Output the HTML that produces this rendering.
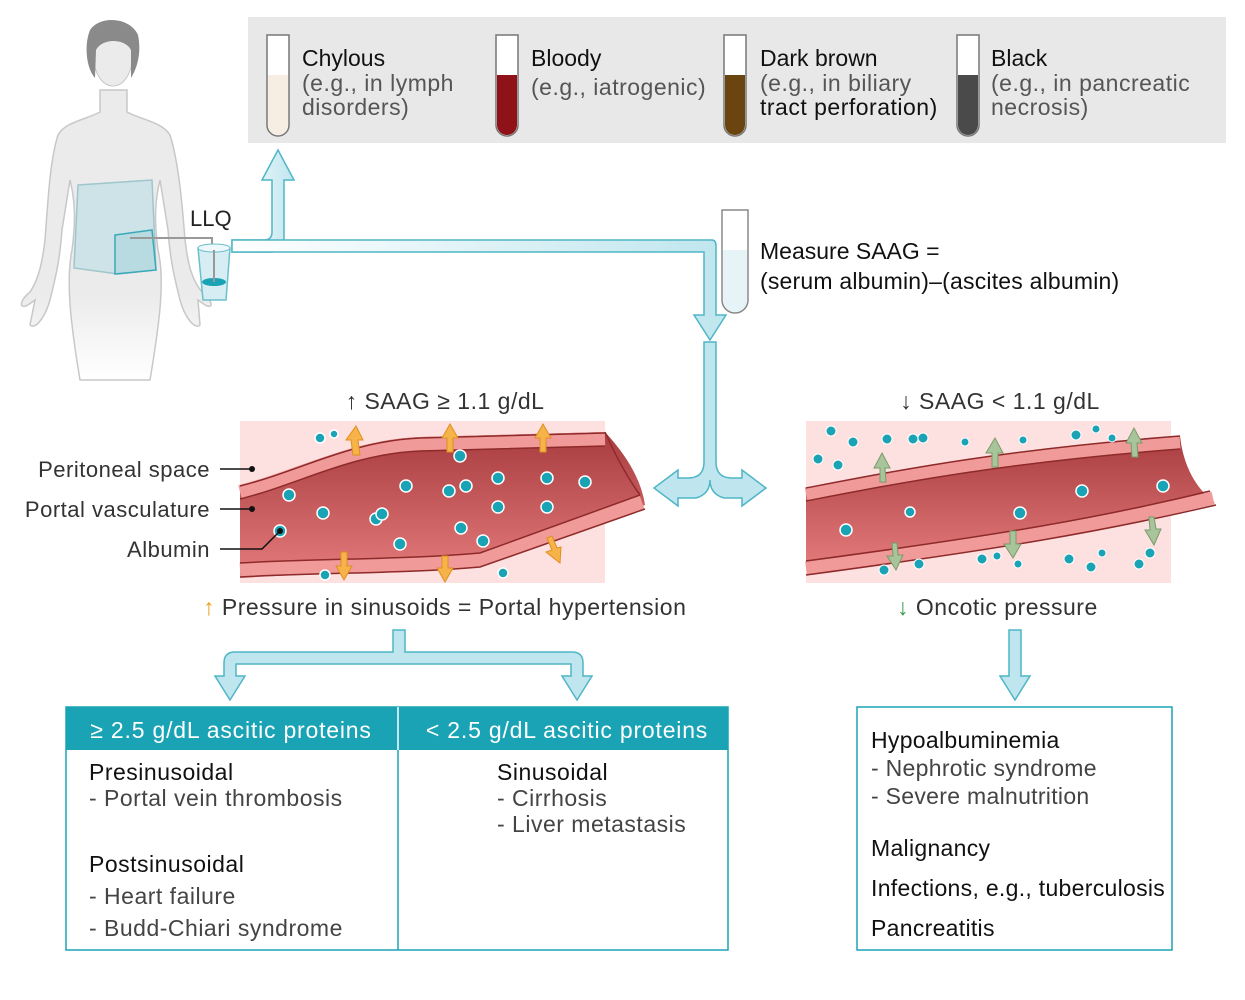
<!DOCTYPE html>
<html><head><meta charset="utf-8"><style>
html,body{margin:0;padding:0;background:#fff}
svg{display:block}
text{font-family:"Liberation Sans",sans-serif}
.g{letter-spacing:0.5px}
</style></head><body>
<svg width="1245" height="1000" viewBox="0 0 1245 1000" xmlns="http://www.w3.org/2000/svg">
<defs>
<linearGradient id="lum" x1="0" y1="0" x2="0" y2="1"><stop offset="0" stop-color="#a83c40"/><stop offset="1" stop-color="#e47b7b"/></linearGradient>
<linearGradient id="body" x1="0" y1="0" x2="0" y2="1"><stop offset="0.7" stop-color="#ebebeb"/><stop offset="1" stop-color="#fff"/></linearGradient>
<linearGradient id="fade" x1="0" y1="0" x2="1" y2="0"><stop offset="0" stop-color="#fff"/><stop offset="1" stop-color="#bfe6ee"/></linearGradient>
</defs>

<!-- woman -->
<path d="M100,90 L100,112 C85,120 65,122 58,135 C50,160 48,200 45,240 C42,265 38,280 30,292 C20,300 18,310 28,305 L35,300 L30,325 C35,330 45,318 50,300 C55,280 60,260 62,230 L70,180 C75,200 76,220 72,250 C66,280 70,320 80,380 L150,380 C160,320 165,280 158,250 C154,220 155,200 160,180 L168,230 C170,260 175,280 180,300 C185,318 195,330 200,325 L198,300 L205,305 C215,310 212,300 202,292 C192,280 188,265 185,240 C182,200 178,160 170,135 C162,122 142,120 127,112 L127,90 Z" fill="url(#body)" stroke="#c8c8c8" stroke-width="1.5"/>
<ellipse cx="113" cy="58" rx="19" ry="28" fill="#ebebeb" stroke="#c8c8c8"/>
<path d="M90,30 C100,15 130,17 138,35 C142,55 136,70 131,78 L131,50 C125,38 102,38 96,50 L95,78 C86,68 84,45 90,30Z" fill="#8a8a8a"/>
<path d="M78,185 L152,180 L156,270 L118,274 L74,268 Z" fill="#cde3e7" stroke="#9fc6cc" stroke-width="1.5"/>
<path d="M115,235 L152,230 L156,270 L115,274 Z" fill="#b8dbe1" stroke="#3aa8b8" stroke-width="1.5"/>
<path d="M130,238 L212,238 L212,252" stroke="#999" stroke-width="2" fill="none"/>
<path d="M198,248 L230,248 L226,300 L203,300 Z" fill="#d6eef3" stroke="#6bbfcc" stroke-width="1.5"/>
<ellipse cx="214" cy="248" rx="16" ry="4" fill="#eef8fa" stroke="#6bbfcc"/>
<ellipse cx="214" cy="282" rx="12" ry="4" fill="#1aa3b5"/>
<line x1="214" y1="250" x2="214" y2="282" stroke="#999" stroke-width="2"/>
<text x="190" y="226" font-size="22" fill="#222">LLQ</text>

<!-- top box -->
<rect x="248" y="17" width="978" height="126" fill="#e8e8e8"/>
<g stroke="#777" stroke-width="1.5">
<path d="M267,35 h22 v90 a11,11 0 0 1 -22,0 Z" fill="#fff"/>
<path d="M268,75 h20 v50 a10,10 0 0 1 -20,0 Z" fill="#f7eee3" stroke="none"/>
<path d="M496,35 h22 v90 a11,11 0 0 1 -22,0 Z" fill="#fff"/>
<path d="M497,75 h20 v50 a10,10 0 0 1 -20,0 Z" fill="#8e1217" stroke="none"/>
<path d="M724,35 h22 v90 a11,11 0 0 1 -22,0 Z" fill="#fff"/>
<path d="M725,75 h20 v50 a10,10 0 0 1 -20,0 Z" fill="#6b4510" stroke="none"/>
<path d="M957,35 h22 v90 a11,11 0 0 1 -22,0 Z" fill="#fff"/>
<path d="M958,75 h20 v50 a10,10 0 0 1 -20,0 Z" fill="#4a4a4a" stroke="none"/>
</g>
<g font-size="23">
<text x="302" y="66" fill="#111">Chylous</text><text class="g" x="302" y="91" fill="#555">(e.g., in lymph</text><text class="g" x="302" y="115" fill="#555">disorders)</text>
<text x="531" y="66" fill="#111">Bloody</text><text class="g" x="531" y="95" fill="#555">(e.g., iatrogenic)</text>
<text x="760" y="66" fill="#111">Dark brown</text><text class="g" x="760" y="91" fill="#555">(e.g., in biliary</text><text class="g" x="760" y="115" fill="#111">tract perforation)</text>
<text x="991" y="66" fill="#111">Black</text><text class="g" x="991" y="91" fill="#555">(e.g., in pancreatic</text><text class="g" x="991" y="115" fill="#555">necrosis)</text>
</g>

<!-- arrows top -->
<g fill="#bfe6ee" stroke="#4fb6c6" stroke-width="1.5">
<path d="M232,240 L264,240 Q272,240 272,232 L272,180 L262,180 L278,150 L294,180 L284,180 L284,240 Q284,252 272,252 L232,252 Z" fill="url(#fade)"/>
<path d="M232,240 L712,240 Q716,240 716,246 L716,315 L726,315 L710,340 L694,315 L704,315 L704,252 L232,252 Z" fill="url(#fade)"/>
<path d="M704,342 L716,342 L716,462 Q716,478 732,478 L742,478 L742,470 L766,488 L742,506 L742,498 L724,498 Q710,494 710,480 Q710,494 696,498 L678,498 L678,506 L654,488 L678,470 L678,478 L688,478 Q704,478 704,462 Z"/>
</g>
<path d="M722,210 h26 v90 a13,13 0 0 1 -26,0 Z" fill="#fff" stroke="#888" stroke-width="1.5"/>
<path d="M723,250 h24 v50 a12,12 0 0 1 -24,0 Z" fill="#e6f4f7"/>
<text x="760" y="259" font-size="23" fill="#111">Measure SAAG =</text>
<text x="760" y="289" font-size="23" fill="#111" letter-spacing="0.2">(serum albumin)–(ascites albumin)</text>

<!-- left vessel -->
<text class="g" x="445" y="409" font-size="23" fill="#333" text-anchor="middle">↑ SAAG ≥ 1.1 g/dL</text>
<rect x="240" y="421" width="365" height="162" fill="#fde0e0"/>
<path d="M240,485 C300,470 350,440 420,437 L605,432 Q640,470 645,505 L480,567 C400,575 330,572 240,578 Z" fill="url(#lum)"/>
<path d="M240,492 C300,477 350,447 420,444 L605,439" stroke="#f09a9a" stroke-width="14" fill="none"/>
<path d="M240,486 C300,471 350,441 420,438 L605,433" stroke="#8e2a2a" stroke-width="1.5" fill="none"/>
<path d="M240,499 C300,484 350,454 420,451 L605,446" stroke="#8e2a2a" stroke-width="1.5" fill="none"/>
<path d="M240,570 C330,565 400,567 480,560 L642,502" stroke="#f09a9a" stroke-width="14" fill="none"/>
<path d="M240,563 C330,558 400,560 480,553 L640,495" stroke="#8e2a2a" stroke-width="1.5" fill="none"/>
<path d="M240,577 C330,572 400,574 480,567 L645,509" stroke="#8e2a2a" stroke-width="1.5" fill="none"/>
<path d="M605,432 Q622,470 640,495" stroke="#8e2a2a" stroke-width="1.5" fill="none"/>
<g fill="#1aa3b5" stroke="#fff" stroke-width="1.5">
<circle cx="320" cy="438" r="5"/><circle cx="334" cy="434" r="4"/><circle cx="460" cy="456" r="6"/>
<circle cx="289" cy="495" r="6"/><circle cx="406" cy="486" r="6"/><circle cx="449" cy="491" r="6"/><circle cx="466" cy="486" r="6"/><circle cx="498" cy="478" r="6"/><circle cx="547" cy="478" r="6"/><circle cx="585" cy="482" r="6"/>
<circle cx="323" cy="513" r="6"/><circle cx="376" cy="519" r="6"/><circle cx="382" cy="514" r="6"/><circle cx="498" cy="507" r="6"/><circle cx="547" cy="507" r="6"/>
<circle cx="280" cy="531" r="6"/><circle cx="461" cy="528" r="6"/><circle cx="400" cy="544" r="6"/><circle cx="483" cy="541" r="6"/>
<circle cx="325" cy="575" r="5"/><circle cx="503" cy="573" r="5"/>
</g>
<circle cx="280" cy="531" r="3" fill="#111"/>
<g fill="#f6b34a" stroke="#e09020" stroke-width="1">
<path d="M353,455 L351,440 L346,440 L356,426 L363,440 L358,440 L360,455Z"/>
<path d="M447,452 L447,438 L442,438 L450,424 L458,438 L453,438 L453,452Z"/>
<path d="M540,452 L540,438 L535,438 L543,424 L551,438 L546,438 L546,452Z"/>
<path d="M341,552 L341,566 L336,566 L344,580 L352,566 L347,566 L347,552Z"/>
<path d="M442,556 L442,568 L437,568 L445,582 L453,568 L448,568 L448,556Z"/>
<path d="M547,538 L552,550 L546,552 L560,563 L561,547 L557,548 L552,536Z"/>
</g>
<g font-size="22" fill="#333" text-anchor="end" class="g">
<text x="210" y="477">Peritoneal space</text><text x="210" y="517">Portal vasculature</text><text x="210" y="557">Albumin</text>
</g>
<g stroke="#111" stroke-width="1.5"><line x1="220" y1="469" x2="252" y2="469"/><line x1="220" y1="509" x2="252" y2="509"/><path d="M220,549 L262,549 L280,531" fill="none"/></g>
<circle cx="252" cy="469" r="3" fill="#111"/><circle cx="252" cy="509" r="3" fill="#111"/>
<text class="g" x="203" y="615" font-size="23" fill="#333"><tspan fill="#f0a020">↑</tspan> Pressure in sinusoids = Portal hypertension</text>

<!-- right vessel -->
<text class="g" x="1000" y="409" font-size="23" fill="#333" text-anchor="middle">↓ SAAG &lt; 1.1 g/dL</text>
<rect x="806" y="421" width="365" height="162" fill="#fde0e0"/>
<path d="M806,488 C900,470 1000,450 1180,436 Q1185,480 1215,503 C1100,525 1000,540 806,568 Z" fill="url(#lum)"/>
<path d="M806,494 C900,476 1000,456 1180,442" stroke="#f09a9a" stroke-width="13" fill="none"/>
<path d="M806,488 C900,470 1000,450 1180,436" stroke="#8e2a2a" stroke-width="1.5" fill="none"/>
<path d="M806,501 C900,483 1000,463 1180,449" stroke="#8e2a2a" stroke-width="1.5" fill="none"/>
<path d="M806,568 C1000,542 1100,525 1213,498" stroke="#f09a9a" stroke-width="13" fill="none"/>
<path d="M806,561 C1000,535 1100,518 1210,491" stroke="#8e2a2a" stroke-width="1.5" fill="none"/>
<path d="M806,575 C1000,549 1100,532 1216,505" stroke="#8e2a2a" stroke-width="1.5" fill="none"/>
<g fill="#1aa3b5" stroke="#fff" stroke-width="1">
<circle cx="831" cy="431" r="5"/><circle cx="853" cy="442" r="5"/><circle cx="887" cy="439" r="5"/><circle cx="913" cy="439" r="5"/><circle cx="923" cy="438" r="5"/><circle cx="965" cy="442" r="4"/><circle cx="1023" cy="440" r="4"/><circle cx="1076" cy="435" r="5"/><circle cx="1096" cy="429" r="4"/><circle cx="1112" cy="438" r="4"/>
<circle cx="818" cy="459" r="5"/><circle cx="838" cy="465" r="5"/>
<circle cx="1082" cy="491" r="6" stroke-width="1.5"/><circle cx="1163" cy="486" r="6" stroke-width="1.5"/><circle cx="910" cy="512" r="5" stroke-width="1.5"/><circle cx="1020" cy="513" r="6" stroke-width="1.5"/><circle cx="846" cy="530" r="6" stroke-width="1.5"/>
<circle cx="884" cy="570" r="5"/><circle cx="919" cy="564" r="5"/><circle cx="982" cy="559" r="5"/><circle cx="997" cy="556" r="4"/><circle cx="1018" cy="564" r="4"/><circle cx="1069" cy="559" r="5"/><circle cx="1091" cy="567" r="5"/><circle cx="1102" cy="553" r="4"/><circle cx="1139" cy="564" r="5"/><circle cx="1150" cy="553" r="5"/>
</g>
<g fill="#a8c49a" stroke="#7a9a6a" stroke-width="1">
<path d="M880,482 L880,468 L874,468 L882,453 L890,468 L885,468 L886,482Z"/>
<path d="M992,467 L992,453 L986,453 L995,438 L1003,453 L998,453 L998,467Z"/>
<path d="M1132,457 L1131,443 L1126,443 L1134,428 L1142,443 L1137,443 L1138,457Z"/>
<path d="M892,543 L893,556 L887,556 L896,570 L903,555 L898,555 L897,543Z"/>
<path d="M1010,531 L1010,544 L1004,544 L1013,558 L1021,544 L1016,544 L1016,531Z"/>
<path d="M1149,517 L1150,530 L1145,530 L1154,545 L1161,529 L1156,529 L1154,517Z"/>
</g>
<text class="g" x="897" y="615" font-size="23" fill="#333"><tspan fill="#3a9a4a">↓</tspan> Oncotic pressure</text>

<!-- lower arrows -->
<g fill="#bfe6ee" stroke="#4fb6c6" stroke-width="1.5">
<path d="M393,630 L405,630 L405,652 L572,652 Q583,652 583,663 L583,676 L592,676 L577,700 L562,676 L571,676 L571,664 L236,664 L236,676 L245,676 L230,700 L215,676 L224,676 L224,663 Q224,652 235,652 L393,652 Z"/>
<path d="M1009,630 L1021,630 L1021,676 L1030,676 L1015,700 L1000,676 L1009,676 Z"/>
</g>

<!-- tables -->
<rect x="66" y="707" width="662" height="243" fill="#fff" stroke="#1aa3b5" stroke-width="1.5"/>
<rect x="66" y="707" width="662" height="43" fill="#1aa3b5"/>
<line x1="398" y1="707" x2="398" y2="950" stroke="#1aa3b5" stroke-width="1.5"/>
<line x1="398" y1="707" x2="398" y2="750" stroke="#fff" stroke-width="1.5"/>
<text x="231" y="738" font-size="23" fill="#fff" text-anchor="middle" letter-spacing="0.8">≥ 2.5 g/dL ascitic proteins</text>
<text x="567" y="738" font-size="23" fill="#fff" text-anchor="middle" letter-spacing="0.8">&lt; 2.5 g/dL ascitic proteins</text>
<g font-size="23" class="g">
<text x="89" y="780" fill="#111">Presinusoidal</text><text x="89" y="806" fill="#444">- Portal vein thrombosis</text>
<text x="89" y="872" fill="#111">Postsinusoidal</text><text x="89" y="904" fill="#444">- Heart failure</text><text x="89" y="936" fill="#444">- Budd-Chiari syndrome</text>
<text x="497" y="780" fill="#111">Sinusoidal</text><text x="497" y="806" fill="#444">- Cirrhosis</text><text x="497" y="832" fill="#444">- Liver metastasis</text>
</g>
<rect x="857" y="707" width="315" height="243" fill="#fff" stroke="#1aa3b5" stroke-width="1.5"/>
<g font-size="23" fill="#111" letter-spacing="0.3">
<text x="871" y="748">Hypoalbuminemia</text><text x="871" y="776" fill="#444">- Nephrotic syndrome</text><text x="871" y="804" fill="#444">- Severe malnutrition</text>
<text x="871" y="856">Malignancy</text><text x="871" y="896">Infections, e.g., tuberculosis</text><text x="871" y="936">Pancreatitis</text>
</g>
</svg>
</body></html>
